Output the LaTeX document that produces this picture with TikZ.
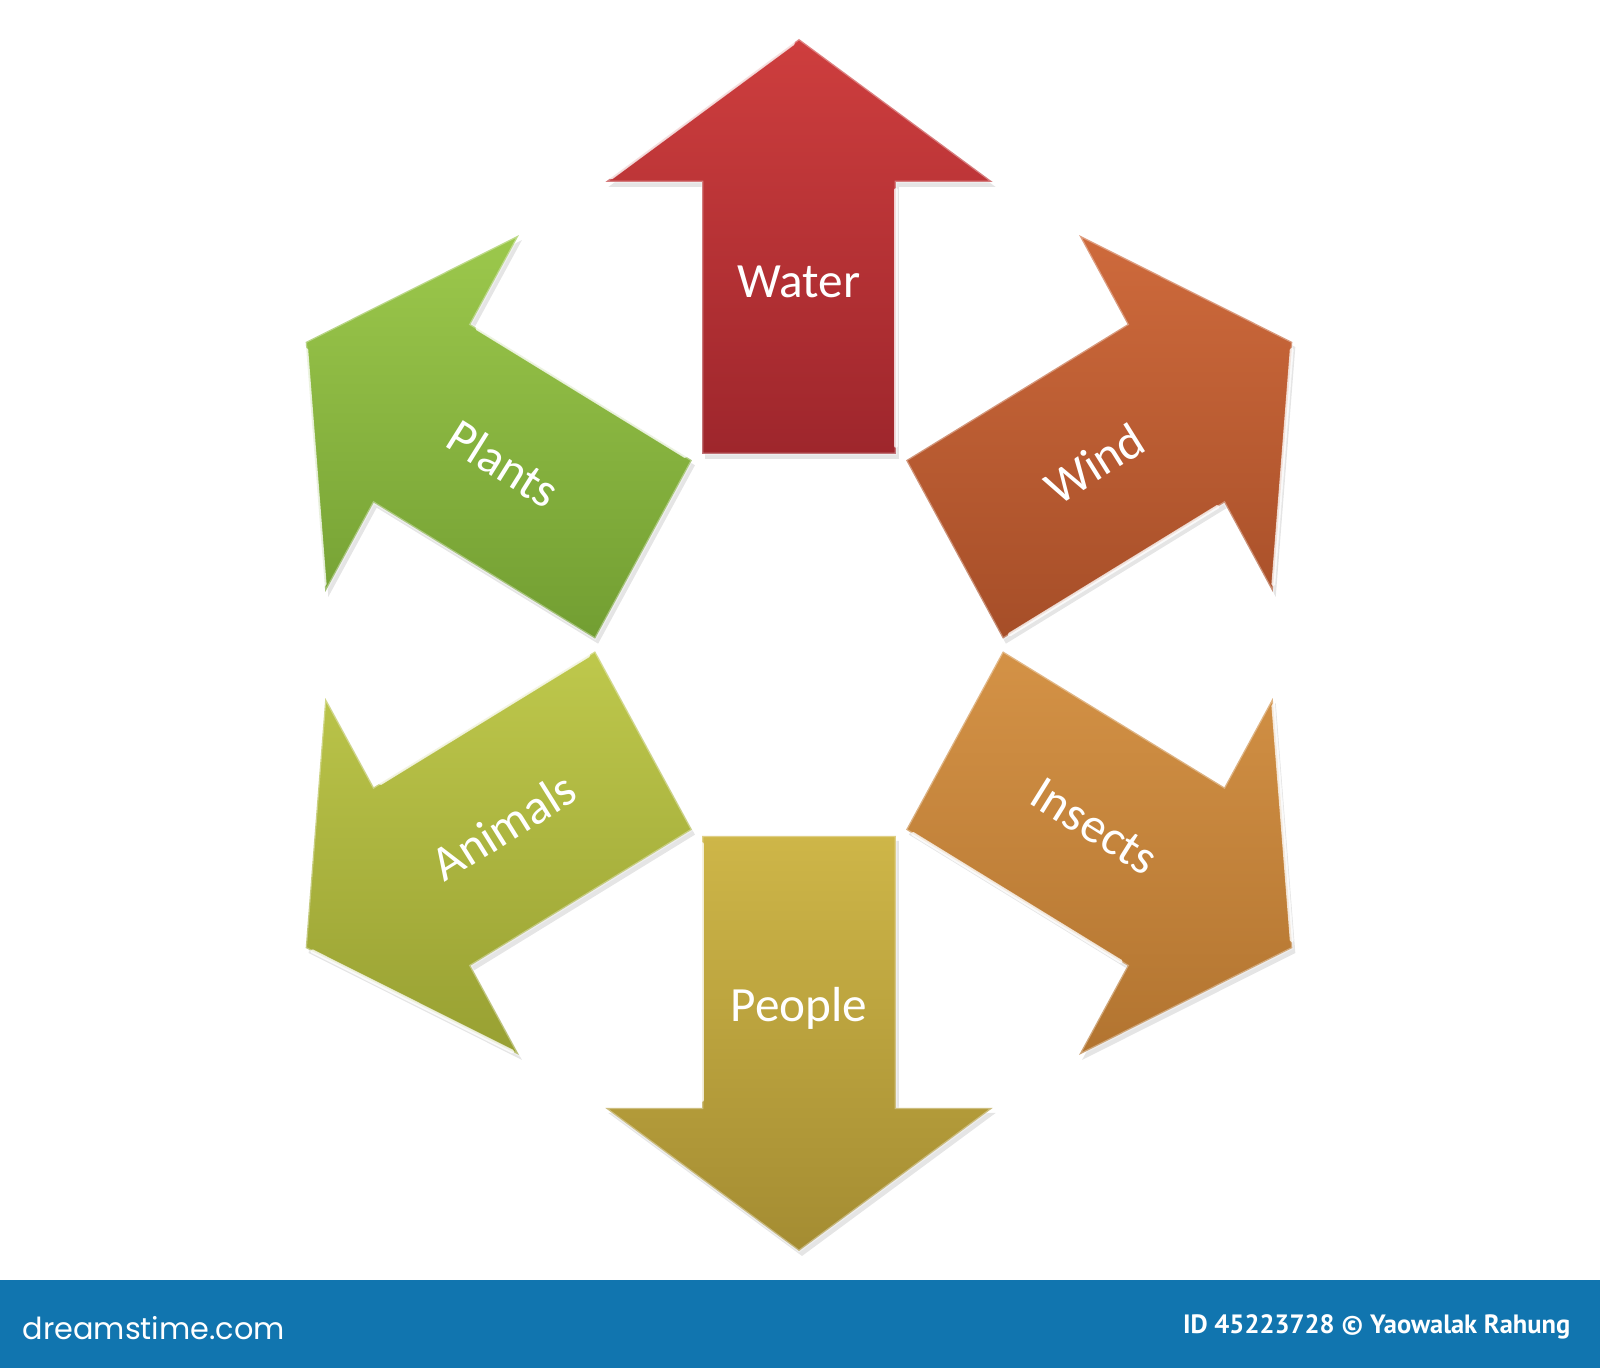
\documentclass[tikz,border=0pt]{standalone}
\usepackage{fontspec}
\setmainfont{Carlito}
\newfontfamily\logofont{Poppins}
\newfontfamily\idfont{PT Sans}
\usetikzlibrary{calc}
\definecolor{banner}{RGB}{17,117,175}
\definecolor{wtop}{RGB}{206,62,62}
\definecolor{wbot}{RGB}{158,38,44}
\definecolor{ndtop}{RGB}{206,106,60}
\definecolor{ndbot}{RGB}{166,78,40}
\definecolor{intop}{RGB}{212,146,70}
\definecolor{inbot}{RGB}{178,116,48}
\definecolor{petop}{RGB}{206,182,72}
\definecolor{pebot}{RGB}{164,140,50}
\definecolor{antop}{RGB}{190,200,76}
\definecolor{anbot}{RGB}{152,160,50}
\definecolor{pltop}{RGB}{156,200,76}
\definecolor{plbot}{RGB}{114,158,50}
\begin{document}
\begin{tikzpicture}[x=0.01cm,y=0.01cm,
  lbl/.style={text=white,font=\fontsize{14}{16}\selectfont,inner sep=0pt},
  bevel/.style={draw=white,draw opacity=0.35,line width=0.7pt,line join=miter},
  shine/.style={draw=white,draw opacity=0.75,line width=1.1pt,line cap=round},
  shadowfill/.style={fill=black,fill opacity=0.10}]
\useasboundingbox (0,0) rectangle (1600,1368);
\fill[white] (0,0) rectangle (1600,1368);
\foreach \n/\a/\ct/\cb/\t/\r/\h in {
  water/90/wtop/wbot/Water/0/3,
  wind/30/ndtop/ndbot/Wind/32/5,
  insects/-30/intop/inbot/Insects/-32/3,
  people/-90/petop/pebot/People/0/0,
  animals/210/antop/anbot/Animals/32/3,
  plants/150/pltop/plbot/Plants/-32/3}
{
  \begin{scope}[shift={(802,718)},xscale=0.94]
  \begin{scope}[rotate=\a]
    \fill[shadowfill] (191,103) -- (463,103) -- (463,206) -- (606,0) -- (463,-206) -- (463,-103) -- (191,-103) -- cycle;
  \end{scope}
  \end{scope}
  \begin{scope}[shift={(799,723)},xscale=0.94]
  \begin{scope}[rotate=\a]
    \coordinate (\n1) at (191,103);
    \coordinate (\n2) at (463,103);
    \coordinate (\n3) at (463,206);
    \coordinate (\n4) at (606,0);
    \coordinate (\n5) at (463,-206);
    \coordinate (\n6) at (463,-103);
    \coordinate (\n7) at (191,-103);
    \coordinate (\n c) at (363,0);
  \end{scope}
  \end{scope}
  \path[top color=\ct,bottom color=\cb] (\n1) -- (\n2) -- (\n3) -- (\n4) -- (\n5) -- (\n6) -- (\n7) -- cycle;
  \draw[bevel] (\n1) -- (\n2) -- (\n3) -- (\n4) -- (\n5) -- (\n6) -- (\n7) -- cycle;
  \draw[shine] ($(\n6)!0.03!(\n7)$) -- ($(\n6)!0.97!(\n7)$);
  \ifnum\h>0
    \draw[shine] ($(\n\h)!0.03!(\n4)$) -- ($(\n\h)!0.97!(\n4)$);
  \fi
  \node[lbl,rotate=\r] (\n-label) at (\n c) {\t};
}
\fill[banner] (0,0) rectangle (1600,88);
\node[anchor=base west,inner sep=0pt,text=white] (logo) at (22,28)
  {\resizebox{2.62cm}{!}{\logofont dreamstime.com}};
\node[anchor=base east,inner sep=0pt,text=white] (credit) at (1571,34)
  {\resizebox{3.87cm}{!}{\idfont\bfseries ID 45223728 © Yaowalak Rahung}};
\end{tikzpicture}
\end{document}
